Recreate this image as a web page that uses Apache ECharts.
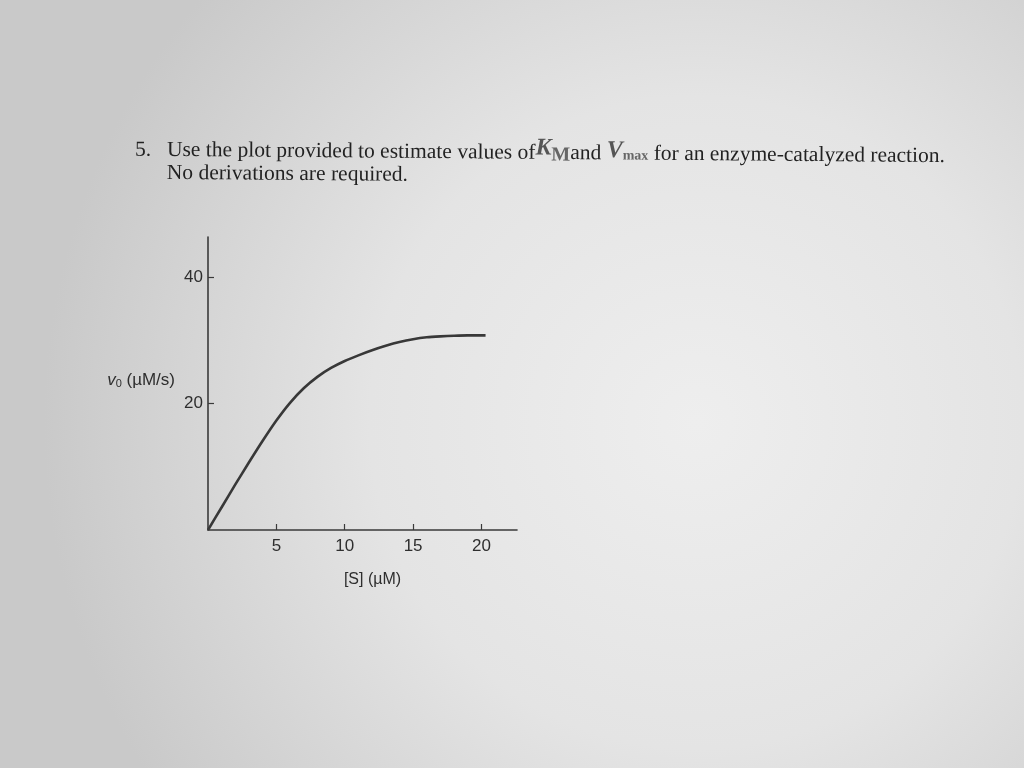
<!DOCTYPE html>
<html>
<head>
<meta charset="utf-8">
<script src="https://cdn.jsdelivr.net/npm/echarts@6/dist/echarts.min.js"></script>
<style>
html,body{margin:0;padding:0;width:1024px;height:768px;overflow:hidden;background:#d8d8d8;}
#c{width:1024px;height:768px;}
</style>
</head>
<body>
<div id="c"></div>
<script>
// Substrate concentration [S] (µM)
var substrate = [0, 1, 2, 3, 4, 5, 6, 7, 8, 9, 10, 11, 12, 13, 14, 15, 16, 17, 18, 19, 20.3];
// Initial velocity v0 (µM/s)
var velocity = [0, 3.6, 7.2, 10.7, 14.1, 17.3, 20.1, 22.4, 24.2, 25.6, 26.7, 27.6, 28.4, 29.1, 29.7, 30.15, 30.45, 30.6, 30.7, 30.75, 30.75];
var xTicks = [5, 10, 15, 20];
var yTicks = [20, 40];

var points = substrate.map(function (s, i) { return [s, velocity[i]]; });

var chart = echarts.init(document.getElementById('c'));
var axisFont = '"Liberation Sans Narrow", "Liberation Sans", Arial, sans-serif';
var serif = '"Liberation Serif", "Times New Roman", serif';
var ink = '#3a3a3a';

chart.setOption({
  backgroundColor: {
    type: 'radial', x: 0.68, y: 0.55, r: 0.85,
    colorStops: [
      {offset: 0, color: '#eeeeee'},
      {offset: 0.5, color: '#e4e4e4'},
      {offset: 1, color: '#c9c9c9'}
    ]
  },
  animation: false,
  grid: {left: 208, right: 507, top: 237, bottom: 238, containLabel: false},
  xAxis: {
    type: 'value', min: 0, max: 22.6, interval: 5,
    axisLine: {lineStyle: {color: ink, width: 1.6}},
    axisTick: {inside: true, length: 6, lineStyle: {color: ink, width: 1.2},
      customValues: xTicks},
    axisLabel: {color: '#2e2e2e', fontFamily: axisFont, fontSize: 17, margin: 8,
      customValues: xTicks},
    splitLine: {show: false},
    name: '[S] (µM)', nameLocation: 'middle', nameGap: 42,
    nameTextStyle: {color: '#2e2e2e', fontFamily: axisFont, fontSize: 16, padding: [0, 0, 0, 20]}
  },
  yAxis: {
    type: 'value', min: 0, max: 46.3, interval: 20,
    axisLine: {show: true, lineStyle: {color: ink, width: 1.6}},
    axisTick: {show: true, inside: true, length: 6, lineStyle: {color: ink, width: 1.2},
      customValues: yTicks},
    axisLabel: {color: '#2e2e2e', fontFamily: axisFont, fontSize: 17, margin: 5,
      customValues: yTicks},
    splitLine: {show: false},
    name: '{v|v}{sub|0}{t| (µM/s)}', nameLocation: 'middle', nameRotate: 0, nameGap: 33,
    nameTextStyle: {
      padding: [0, 0, 6, 0],
      rich: {
        v: {fontFamily: axisFont, fontStyle: 'italic', fontSize: 17, color: '#2e2e2e'},
        sub: {fontFamily: axisFont, fontSize: 11, color: '#2e2e2e', padding: [7, 0, 0, 0]},
        t: {fontFamily: axisFont, fontSize: 17, color: '#2e2e2e'}
      }
    }
  },
  series: [{
    type: 'line', data: points, smooth: 0.25, showSymbol: false,
    lineStyle: {color: '#383838', width: 2.6}
  }],
  graphic: [{
    type: 'group', x: 135, y: 150, rotation: -0.008,
    children: [
      {type: 'text', x: 0, y: 0, style: {text: '5.', font: '21.5px ' + serif, fill: '#222', verticalAlign: 'middle'}},
      {type: 'text', x: 32, y: 0, style: {
        text: 'Use the plot provided to estimate values of{K|K}{M|M}and {V|V}{max|max} for an enzyme-catalyzed reaction.',
        font: '21.5px ' + serif, fill: '#222', verticalAlign: 'middle',
        rich: {
          K: {fontFamily: serif, fontStyle: 'italic', fontWeight: 'bold', fontSize: 24, fill: '#555', padding: [0, 0, 10, 0]},
          M: {fontFamily: serif, fontWeight: 'bold', fontSize: 20, fill: '#666', padding: [0, 0, -4, 0]},
          V: {fontFamily: serif, fontStyle: 'italic', fontWeight: 'bold', fontSize: 24, fill: '#555', padding: [0, 0, 6, 0]},
          max: {fontFamily: serif, fontWeight: 'bold', fontSize: 14, fill: '#666', padding: [0, 0, -4, 0]}
        }
      }},
      {type: 'text', x: 32, y: 23, style: {text: 'No derivations are required.', font: '21.5px ' + serif, fill: '#222', verticalAlign: 'middle'}}
    ]
  }]
});
</script>
</body>
</html>
